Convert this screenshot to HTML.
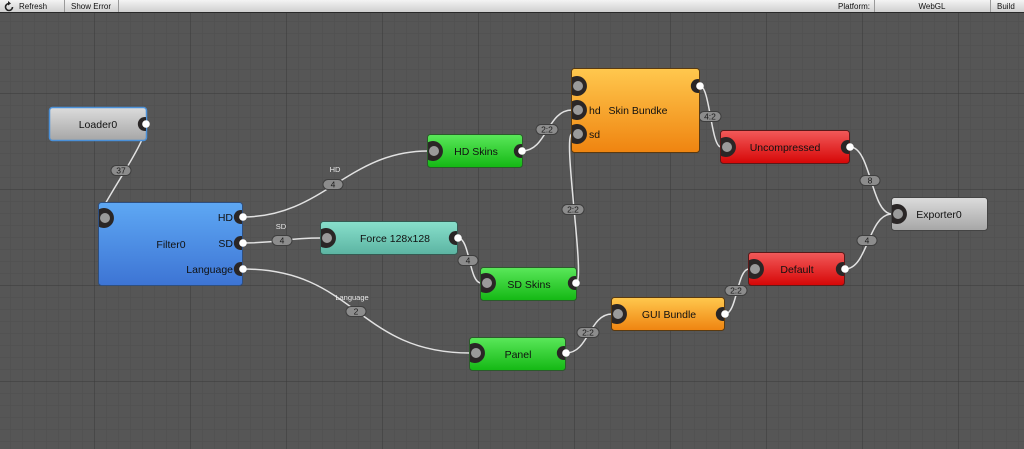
<!DOCTYPE html>
<html><head><meta charset="utf-8"><style>
html,body{margin:0;padding:0;width:1024px;height:449px;overflow:hidden;background:#585858}
svg{display:block}
text{font-family:"Liberation Sans",sans-serif}
</style></head><body>
<svg width="1024" height="449" viewBox="0 0 1024 449" xmlns="http://www.w3.org/2000/svg">
<defs>
<pattern id="minor" x="-1" y="-2" width="12" height="12" patternUnits="userSpaceOnUse"><path d="M12 0V12M0 12H12" stroke="#4f4f4f" stroke-width="1" fill="none"/></pattern>
<pattern id="major" x="-1" y="-2" width="96" height="96" patternUnits="userSpaceOnUse"><path d="M96 0V96M0 96H96" stroke="#3a3a3a" stroke-width="1" fill="none"/></pattern>
<linearGradient id="tb" x1="0" y1="0" x2="0" y2="1"><stop offset="0" stop-color="#f4f4f4"/><stop offset="1" stop-color="#cfcfcf"/></linearGradient>
<linearGradient id="gray" x1="0" y1="0" x2="0" y2="1"><stop offset="0" stop-color="#dcdcdc"/><stop offset="1" stop-color="#a6a6a6"/></linearGradient>
<linearGradient id="blue" x1="0" y1="0" x2="0" y2="1"><stop offset="0" stop-color="#5ea8f4"/><stop offset="1" stop-color="#3d74d4"/></linearGradient>
<linearGradient id="green" x1="0" y1="0" x2="0" y2="1"><stop offset="0" stop-color="#5ae85a"/><stop offset="1" stop-color="#14b814"/></linearGradient>
<linearGradient id="teal" x1="0" y1="0" x2="0" y2="1"><stop offset="0" stop-color="#88e0cc"/><stop offset="1" stop-color="#5cb4a2"/></linearGradient>
<linearGradient id="orange" x1="0" y1="0" x2="0" y2="1"><stop offset="0" stop-color="#ffc84e"/><stop offset="1" stop-color="#ef8410"/></linearGradient>
<linearGradient id="red" x1="0" y1="0" x2="0" y2="1"><stop offset="0" stop-color="#f25a5a"/><stop offset="1" stop-color="#d60606"/></linearGradient>
</defs>
<rect width="1024" height="449" fill="#565656"/>
<rect width="1024" height="449" fill="url(#minor)"/>
<rect width="1024" height="449" fill="url(#major)"/>

<rect x="0" y="0" width="1024" height="12" fill="url(#tb)"/>
<line x1="0" y1="12.5" x2="1024" y2="12.5" stroke="#2a2a2a"/>
<g stroke="#9a9a9a"><line x1="64.5" y1="0" x2="64.5" y2="12"/><line x1="118.5" y1="0" x2="118.5" y2="12"/><line x1="874.5" y1="0" x2="874.5" y2="12"/><line x1="990.5" y1="0" x2="990.5" y2="12"/></g>
<g font-size="8" fill="#111">
<text x="19" y="9">Refresh</text><text x="71" y="9">Show Error</text>
<text x="838" y="9">Platform:</text><text x="932" y="9" text-anchor="middle">WebGL</text><text x="997" y="9">Build</text>
</g>
<path d="M9 3.5a3.5 3.5 0 1 0 3.5 3.5" stroke="#222" stroke-width="1.6" fill="none"/><path d="M8 1l3 2.5-3 2z" fill="#222"/>

<g stroke="#e2e2e2" stroke-width="1.5" fill="none">
<path d="M146,124 C149,140 101,204 99,218"/>
<path d="M243,217 C323,217 348,151 428,151"/>
<path d="M243,243 C282,243 282,238 321,238"/>
<path d="M243,269 C356,269 357,353 470,353"/>
<path d="M458,238 C470,238 469,283 481,283"/>
<path d="M522,151 C547,151 547,110 572,110"/>
<path d="M576,283 C586,283 562,134 572,134"/>
<path d="M700,86 C710,86 711,147 721,147"/>
<path d="M566,353 C589,353 589,314 612,314"/>
<path d="M725,314 C737,314 737,269 749,269"/>
<path d="M850,147 C871,147 871,214 892,214"/>
<path d="M845,269 C868,269 868,214 892,214"/>
</g>
<g font-size="7.5" fill="#e8e8e8" text-anchor="middle">
<text x="335" y="172">HD</text><text x="281" y="229">SD</text><text x="352" y="300">Language</text>
</g>
<g font-size="8.5" text-anchor="middle" fill="#1a1a1a">
<g><rect x="111" y="165.5" width="20" height="10" rx="5" fill="#8c8c8c" stroke="#3e3e3e"/><text x="121" y="173.5">37</text></g>
<g><rect x="323" y="179.5" width="20" height="10" rx="5" fill="#8c8c8c" stroke="#3e3e3e"/><text x="333" y="187.5">4</text></g>
<g><rect x="272" y="235.5" width="20" height="10" rx="5" fill="#8c8c8c" stroke="#3e3e3e"/><text x="282" y="243.5">4</text></g>
<g><rect x="346" y="306.5" width="20" height="10" rx="5" fill="#8c8c8c" stroke="#3e3e3e"/><text x="356" y="314.5">2</text></g>
<g><rect x="458" y="255.5" width="20" height="10" rx="5" fill="#8c8c8c" stroke="#3e3e3e"/><text x="468" y="263.5">4</text></g>
<g><rect x="536" y="124.5" width="22" height="10" rx="5" fill="#8c8c8c" stroke="#3e3e3e"/><text x="547" y="132.5">2:2</text></g>
<g><rect x="562" y="204.5" width="22" height="10" rx="5" fill="#8c8c8c" stroke="#3e3e3e"/><text x="573" y="212.5">2:2</text></g>
<g><rect x="699" y="111.5" width="22" height="10" rx="5" fill="#8c8c8c" stroke="#3e3e3e"/><text x="710" y="119.5">4:2</text></g>
<g><rect x="577" y="327.5" width="22" height="10" rx="5" fill="#8c8c8c" stroke="#3e3e3e"/><text x="588" y="335.5">2:2</text></g>
<g><rect x="725" y="285.5" width="22" height="10" rx="5" fill="#8c8c8c" stroke="#3e3e3e"/><text x="736" y="293.5">2:2</text></g>
<g><rect x="860" y="175.5" width="20" height="10" rx="5" fill="#8c8c8c" stroke="#3e3e3e"/><text x="870" y="183.5">8</text></g>
<g><rect x="857" y="235.5" width="20" height="10" rx="5" fill="#8c8c8c" stroke="#3e3e3e"/><text x="867" y="243.5">4</text></g>
</g>

<g font-size="10.5" fill="#111" text-anchor="middle" stroke-width="1">
<rect x="49.5" y="107.5" width="97" height="33" rx="3" fill="url(#gray)" stroke="#4a90d8" stroke-width="1.5"/>
<text x="98" y="128">Loader0</text>
<rect x="98.5" y="202.5" width="144" height="83" rx="3" fill="url(#blue)" stroke="#2e4f80"/>
<text x="171" y="248">Filter0</text>
<g text-anchor="end"><text x="233" y="221">HD</text><text x="233" y="247">SD</text><text x="233" y="273">Language</text></g>
<rect x="427.5" y="134.5" width="95" height="33" rx="3" fill="url(#green)" stroke="#2c5a2c"/>
<text x="476" y="155">HD Skins</text>
<rect x="320.5" y="221.5" width="137" height="33" rx="3" fill="url(#teal)" stroke="#355a52"/>
<text x="395" y="242">Force 128x128</text>
<rect x="480.5" y="267.5" width="96" height="33" rx="3" fill="url(#green)" stroke="#2c5a2c"/>
<text x="529" y="288">SD Skins</text>
<rect x="469.5" y="337.5" width="96" height="33" rx="3" fill="url(#green)" stroke="#2c5a2c"/>
<text x="518" y="358">Panel</text>
<rect x="571.5" y="68.5" width="128" height="84" rx="3" fill="url(#orange)" stroke="#5a3a10"/>
<text x="638" y="114">Skin Bundke</text>
<g text-anchor="start"><text x="589" y="114">hd</text><text x="589" y="138">sd</text></g>
<rect x="720.5" y="130.5" width="129" height="33" rx="3" fill="url(#red)" stroke="#5a1a1a"/>
<text x="785" y="151">Uncompressed</text>
<rect x="891.5" y="197.5" width="96" height="33" rx="3" fill="url(#gray)" stroke="#444"/>
<text x="939" y="218">Exporter0</text>
<rect x="748.5" y="252.5" width="96" height="33" rx="3" fill="url(#red)" stroke="#5a1a1a"/>
<text x="797" y="273">Default</text>
<rect x="611.5" y="297.5" width="113" height="33" rx="3" fill="url(#orange)" stroke="#5a3a10"/>
<text x="669" y="318">GUI Bundle</text>
</g>

<g fill="#2a2626">
<path d="M99,209.3 A10,10 0 1 1 99,226.7 Z"/>
<path d="M428,142.3 A10,10 0 1 1 428,159.7 Z"/>
<path d="M321,229.3 A10,10 0 1 1 321,246.7 Z"/>
<path d="M481,274.3 A10,10 0 1 1 481,291.7 Z"/>
<path d="M470,344.3 A10,10 0 1 1 470,361.7 Z"/>
<path d="M572,77.3 A10,10 0 1 1 572,94.7 Z"/>
<path d="M572,101.3 A10,10 0 1 1 572,118.7 Z"/>
<path d="M572,125.3 A10,10 0 1 1 572,142.7 Z"/>
<path d="M721,138.3 A10,10 0 1 1 721,155.7 Z"/>
<path d="M892,205.3 A10,10 0 1 1 892,222.7 Z"/>
<path d="M749,260.3 A10,10 0 1 1 749,277.7 Z"/>
<path d="M612,305.3 A10,10 0 1 1 612,322.7 Z"/>
</g>
<g fill="#9a9a9a">
<circle cx="105" cy="218" r="5"/><circle cx="434" cy="151" r="5"/><circle cx="327" cy="238" r="5"/><circle cx="487" cy="283" r="5"/>
<circle cx="476" cy="353" r="5"/><circle cx="578" cy="86" r="5"/><circle cx="578" cy="110" r="5"/><circle cx="578" cy="134" r="5"/>
<circle cx="727" cy="147" r="5"/><circle cx="898" cy="214" r="5"/><circle cx="755" cy="269" r="5"/><circle cx="618" cy="314" r="5"/>
</g>
<!-- output ports: circle center R-1 r7 clipped at R -->
<g fill="#2a2626">
<path d="M146,117.1 A7,7 0 1 0 146,130.9 Z"/><path d="M242,210.1 A7,7 0 1 0 242,223.9 Z"/><path d="M242,236.1 A7,7 0 1 0 242,249.9 Z"/><path d="M242,262.1 A7,7 0 1 0 242,275.9 Z"/>
<path d="M522,144.1 A7,7 0 1 0 522,157.9 Z"/><path d="M457,231.1 A7,7 0 1 0 457,244.9 Z"/><path d="M576,276.1 A7,7 0 1 0 576,289.9 Z"/><path d="M565,346.1 A7,7 0 1 0 565,359.9 Z"/>
<path d="M699,79.1 A7,7 0 1 0 699,92.9 Z"/><path d="M849,140.1 A7,7 0 1 0 849,153.9 Z"/><path d="M844,262.1 A7,7 0 1 0 844,275.9 Z"/><path d="M724,307.1 A7,7 0 1 0 724,320.9 Z"/>
</g>
<g fill="#fff">
<circle cx="146" cy="124" r="3.8"/><circle cx="243" cy="217" r="3.8"/><circle cx="243" cy="243" r="3.8"/><circle cx="243" cy="269" r="3.8"/>
<circle cx="522" cy="151" r="3.8"/><circle cx="458" cy="238" r="3.8"/><circle cx="576" cy="283" r="3.8"/><circle cx="566" cy="353" r="3.8"/>
<circle cx="700" cy="86" r="3.8"/><circle cx="850" cy="147" r="3.8"/><circle cx="845" cy="269" r="3.8"/><circle cx="725" cy="314" r="3.8"/>
</g>
</svg>
</body></html>
